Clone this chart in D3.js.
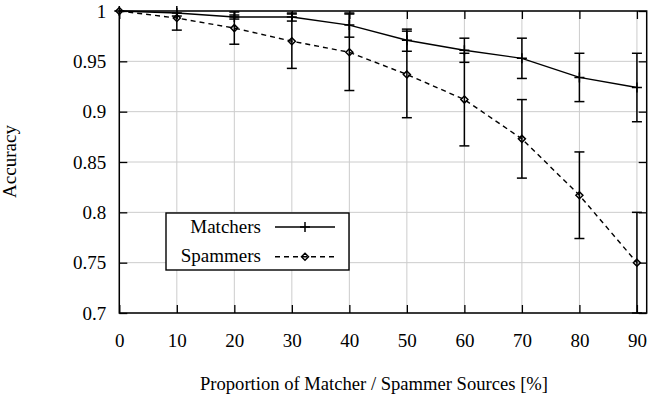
<!DOCTYPE html>
<html>
<head>
<meta charset="utf-8">
<script src="https://cdn.jsdelivr.net/npm/d3@7"></script>
<style>
  body { margin: 0; background: #fff; }
  svg { display: block; font-family: "Liberation Serif", "Times New Roman", serif; }
</style>
</head>
<body>
<svg width="652" height="398"></svg>
<script>
// data
const proportions = [0, 10, 20, 30, 40, 50, 60, 70, 80, 90];
const matchers    = [1.0, 0.998, 0.994, 0.994, 0.986, 0.971, 0.961, 0.953, 0.934, 0.924];
const matchersErr = [0, 0.003, 0.002, 0.004, 0.012, 0.011, 0.012, 0.020, 0.024, 0.034];
const spammers    = [1.0, 0.993, 0.983, 0.970, 0.959, 0.937, 0.912, 0.873, 0.817, 0.750];
const spammersErr = [0, 0.012, 0.016, 0.027, 0.038, 0.043, 0.046, 0.039, 0.043, 0.050];
const xTicks = [0, 10, 20, 30, 40, 50, 60, 70, 80, 90];
const yTicks = [0.7, 0.75, 0.8, 0.85, 0.9, 0.95, 1];

const plotLeft = 119.3, plotRight = 646.7, plotTop = 11, plotBottom = 313;
const fontSize = 19;

const svg = d3.select("svg");

const x = d3.scaleLinear().domain([0, 91.7]).range([plotLeft, plotRight]);
const y = d3.scaleLinear().domain([0.7, 1.0]).range([plotBottom, plotTop]);

// grid
const grid = svg.append("g");
grid.selectAll("line.gx").data(xTicks).enter().append("line")
    .attr("x1", d => x(d)).attr("x2", d => x(d))
    .attr("y1", plotTop).attr("y2", plotBottom)
    .attr("stroke", "#cccccc").attr("stroke-width", 1);
grid.selectAll("line.gy").data(yTicks).enter().append("line")
    .attr("x1", plotLeft).attr("x2", plotRight)
    .attr("y1", d => y(d)).attr("y2", d => y(d))
    .attr("stroke", "#cccccc").attr("stroke-width", 1);

// axes with inward ticks
function styleAxis(g) {
    g.select(".domain").remove();
    g.selectAll(".tick line").attr("stroke", "#000").attr("stroke-width", 1.3);
    g.selectAll("text").attr("fill", "#000").style("font-size", fontSize + "px")
        .style("font-family", "'Liberation Serif', 'Times New Roman', serif");
}

svg.append("g")
    .attr("transform", `translate(0, ${plotBottom})`)
    .call(d3.axisBottom(x).tickValues(xTicks).tickSize(-8).tickPadding(20.5).tickFormat(d => d))
    .call(styleAxis);
svg.append("g")
    .attr("transform", `translate(0, ${plotTop})`)
    .call(d3.axisTop(x).tickValues(xTicks).tickSize(-8).tickFormat(""))
    .call(styleAxis);
svg.append("g")
    .attr("transform", `translate(${plotLeft}, 0)`)
    .call(d3.axisLeft(y).tickValues(yTicks).tickSize(-8).tickPadding(13).tickFormat(d => String(d)))
    .call(styleAxis);
svg.append("g")
    .attr("transform", `translate(${plotRight}, 0)`)
    .call(d3.axisRight(y).tickValues(yTicks).tickSize(-8).tickFormat(""))
    .call(styleAxis);

// border
svg.append("rect")
    .attr("x", plotLeft).attr("y", plotTop)
    .attr("width", plotRight - plotLeft).attr("height", plotBottom - plotTop)
    .attr("fill", "none").attr("stroke", "#000").attr("stroke-width", 1.5);

// axis labels
svg.append("text")
    .attr("x", 374).attr("y", 390)
    .attr("text-anchor", "middle")
    .style("font-size", "18.6px")
    .text("Proportion of Matcher / Spammer Sources [%]");

svg.append("text")
    .attr("transform", "translate(15.5, 161.5) rotate(-90)")
    .attr("text-anchor", "middle")
    .style("font-size", fontSize + "px")
    .text("Accuracy");

// series
const series = [
    {name: "Matchers", values: matchers, err: matchersErr, dash: null, marker: "plus"},
    {name: "Spammers", values: spammers, err: spammersErr, dash: "5,4", marker: "diamond"}
];

function drawMarker(g, type, cx, cy) {
    if (type === "plus") {
        g.append("path")
            .attr("d", `M${cx - 5},${cy}H${cx + 5}M${cx},${cy - 5}V${cy + 5}`)
            .attr("stroke", "#000").attr("stroke-width", 1.5).attr("fill", "none");
    } else {
        g.append("path")
            .attr("d", `M${cx},${cy - 3.5}L${cx + 3.5},${cy}L${cx},${cy + 3.5}L${cx - 3.5},${cy}Z`)
            .attr("stroke", "#000").attr("stroke-width", 1.5).attr("fill", "none");
    }
}

series.forEach(function(s) {
    const g = svg.append("g");
    const pts = proportions.map((p, i) => ({p: p, v: s.values[i], e: s.err[i]}));

    // error bars
    pts.forEach(function(d) {
        if (d.e === 0) return;
        const y1 = y(d.v + d.e), y2 = y(d.v - d.e), cx = x(d.p);
        g.append("line")
            .attr("x1", cx).attr("x2", cx).attr("y1", y1).attr("y2", y2)
            .attr("stroke", "#000").attr("stroke-width", 1.5);
        [y1, y2].forEach(function(yy) {
            if (yy < plotTop - 1) return;
            g.append("line")
                .attr("x1", cx - 5).attr("x2", cx + 5).attr("y1", yy).attr("y2", yy)
                .attr("stroke", "#000").attr("stroke-width", 1.5);
        });
    });

    // line
    const line = d3.line().x(d => x(d.p)).y(d => y(d.v));
    g.append("path")
        .datum(pts)
        .attr("d", line)
        .attr("fill", "none")
        .attr("stroke", "#000")
        .attr("stroke-width", 1.4)
        .attr("stroke-dasharray", s.dash);

    pts.forEach(d => drawMarker(g, s.marker, x(d.p), y(d.v)));
});

// legend
const legend = svg.append("g");
legend.append("rect")
    .attr("x", 166).attr("y", 213).attr("width", 183).attr("height", 57)
    .attr("fill", "#fff").attr("stroke", "#000").attr("stroke-width", 1.4);

series.forEach(function(s, i) {
    const cy = 227 + i * 29.7;
    legend.append("text")
        .attr("x", 261).attr("y", cy + 5.5)
        .attr("text-anchor", "end")
        .style("font-size", fontSize + "px")
        .text(s.name);
    legend.append("line")
        .attr("x1", 275).attr("x2", 335).attr("y1", cy).attr("y2", cy)
        .attr("stroke", "#000").attr("stroke-width", 1.4)
        .attr("stroke-dasharray", s.dash);
    drawMarker(legend, s.marker, 305, cy);
});
</script>
</body>
</html>
